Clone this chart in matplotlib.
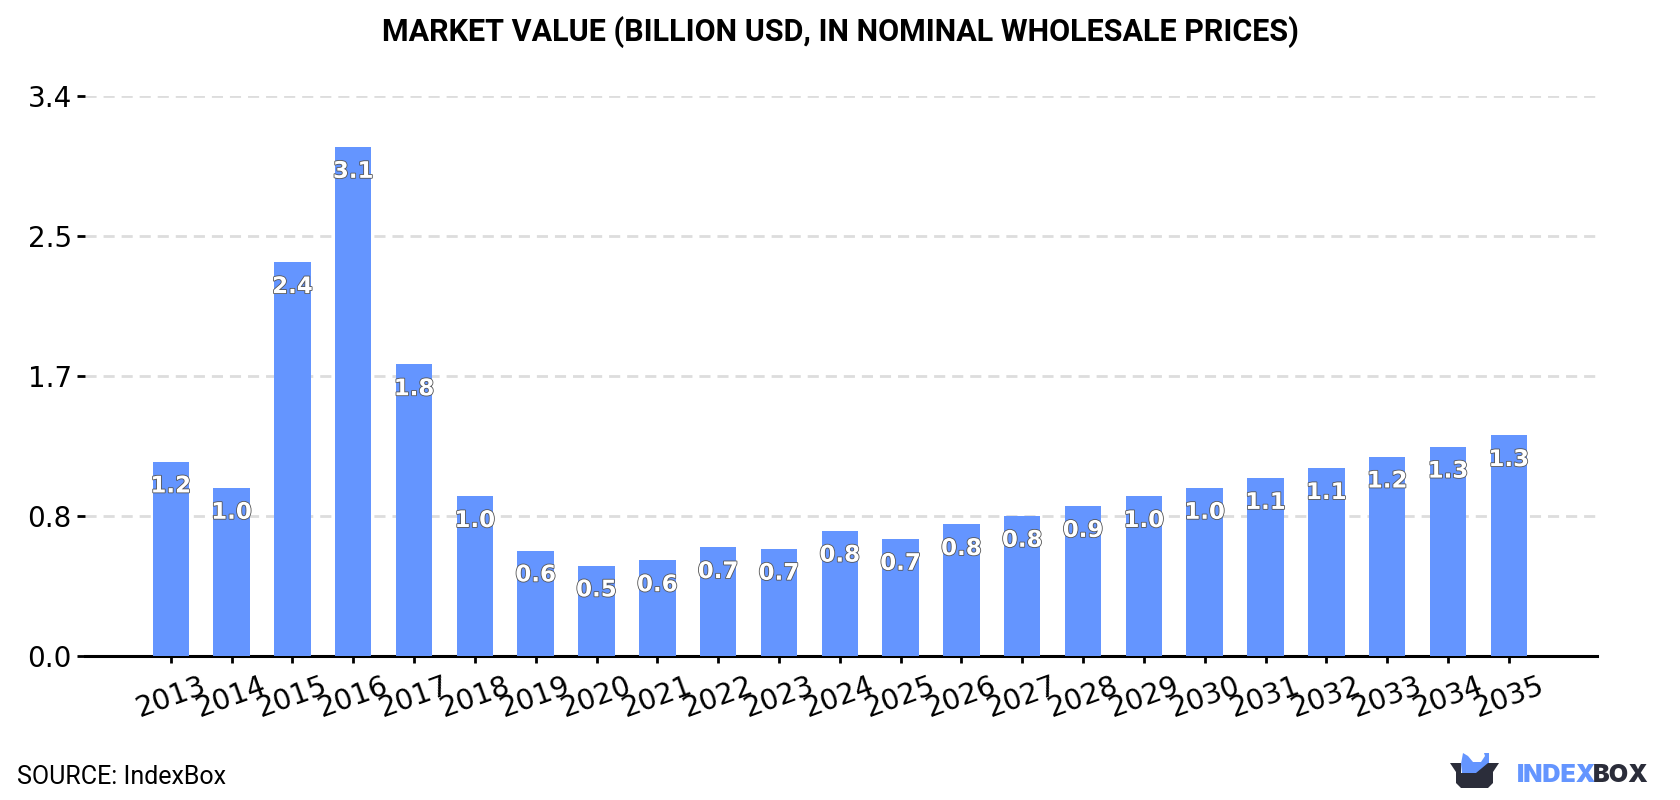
import matplotlib
matplotlib.use('Agg')
import matplotlib.pyplot as plt
import matplotlib.patheffects as pe
from matplotlib.patches import Polygon

# Market value per year
years = [2013, 2014, 2015, 2016, 2017, 2018, 2019, 2020, 2021, 2022, 2023, 2024,
         2025, 2026, 2027, 2028, 2029, 2030, 2031, 2032, 2033, 2034, 2035]
values = [1.18, 1.02, 2.39, 3.09, 1.77, 0.97, 0.64, 0.549, 0.58, 0.66, 0.65, 0.76,
          0.71, 0.80, 0.85, 0.91, 0.97, 1.02, 1.08, 1.14, 1.21, 1.27, 1.34]
y_ticks = [0.0, 0.85, 1.7, 2.55, 3.4]
y_tick_labels = ['0.0', '0.8', '1.7', '2.5', '3.4']

BLUE = '#6495ff'
DARK = '#2b2d3a'

W, H = 1680, 800
fig = plt.figure(figsize=(W / 100, H / 100), dpi=100)
ax = fig.add_axes([85 / W, 1 - 656 / H, (1597 - 85) / W, (656 - 96) / H])

x = list(range(len(years)))
ax.bar(x, values, width=0.6, color=BLUE, zorder=3)
ax.set_xlim(-1.41, 23.45)
ax.set_ylim(0, 3.4)

ax.set_yticks(y_ticks)
ax.set_yticklabels(y_tick_labels)
ax.set_xticks(x)
ax.set_xticklabels([str(y) for y in years], rotation=20)
ax.tick_params(axis='y', labelsize=20, width=2, length=5.5, pad=4)
ax.tick_params(axis='x', labelsize=20.5, width=2, length=5, pad=6)

ax.grid(axis='y', color='#dddddd', linestyle=(0, (4, 2.5)), linewidth=2, zorder=0)
ax.set_axisbelow(True)
for side in ['top', 'right', 'left']:
    ax.spines[side].set_visible(False)
ax.spines['bottom'].set_linewidth(2.2)

# Value labels just inside the top of each bar
for xi, v in zip(x, values):
    ax.annotate(f'{v:.1f}', (xi, v), xytext=(0, -17.5), textcoords='offset points',
                ha='center', va='center', fontsize=16.5, fontweight='bold', color='white',
                family='DejaVu Sans', zorder=5,
                path_effects=[pe.withStroke(linewidth=1.2, foreground='#555555')])

fig.text(0.5, 1 - 32 / H, 'MARKET VALUE (BILLION USD, IN NOMINAL WHOLESALE PRICES)',
         ha='center', va='center', fontsize=22, fontweight='bold', family='Roboto', color='black')
fig.text(17 / W, 1 - 777 / H, 'SOURCE: IndexBox', ha='left', va='center',
         fontsize=18, family='Roboto', color='black')

# Logo: box with blue crown, then the wordmark
logo = fig.add_axes([0, 0, 1, 1], facecolor='none')
logo.set_xlim(0, W)
logo.set_ylim(H, 0)
logo.axis('off')
logo.add_patch(Polygon([(1461, 764), (1463, 753), (1468, 756), (1473, 762), (1481, 762),
                        (1485, 756), (1484, 753), (1489, 753), (1489, 764), (1478, 773), (1462, 773)],
                       closed=True, color=BLUE, lw=0))
logo.add_patch(Polygon([(1450, 763), (1461, 763), (1461, 773), (1476, 773), (1488, 763), (1499, 763),
                        (1493, 772), (1493, 783), (1488, 788), (1461, 788), (1456, 783), (1456, 772)],
                       closed=True, color=DARK, lw=0))
t1 = logo.text(1517, 775.5, 'INDEX', ha='left', va='center', fontsize=18, fontweight='black',
               family='Inter', color=BLUE)
fig.canvas.draw()
bb = t1.get_window_extent()
logo.text(bb.x1 - 3, 775.5, 'BOX', ha='left', va='center', fontsize=18, fontweight='black',
          family='Inter', color=DARK)

fig.savefig('out.png', dpi=100, facecolor='white')
